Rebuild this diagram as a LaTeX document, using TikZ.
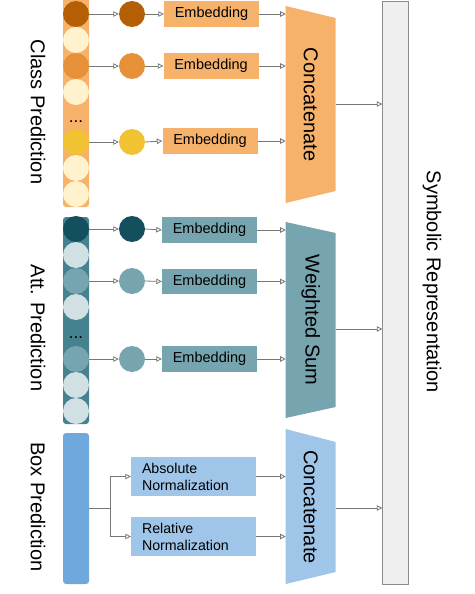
\documentclass[tikz,border=0pt]{standalone}
\usepackage{fontspec}
\setmainfont{Liberation Sans}
\usetikzlibrary{arrows.meta}
\definecolor{lgray}{HTML}{777777}
\definecolor{oColumn}{HTML}{F6B26B}
\definecolor{oDark}{HTML}{B45F06}
\definecolor{oMid}{HTML}{E69138}
\definecolor{oYel}{HTML}{F1C232}
\definecolor{oLight}{HTML}{FFF2CC}
\definecolor{tColumn}{HTML}{45818E}
\definecolor{tDark}{HTML}{134F5C}
\definecolor{tMid}{HTML}{76A5AF}
\definecolor{tLight}{HTML}{D0E0E3}
\definecolor{bColumn}{HTML}{6FA8DC}
\definecolor{bBox}{HTML}{9FC5E8}
\definecolor{symFill}{HTML}{EFEFEF}
\definecolor{symDraw}{HTML}{8C8C8C}
\tikzset{
  conn/.style={draw=lgray, line width=0.8pt, -{Triangle[open,length=5.5pt,width=5.5pt]}},
  plainline/.style={draw=lgray, line width=0.8pt},
  circ/.style={circle, minimum size=26pt, inner sep=0pt, draw=none},
  colbox/.style={rectangle, rounded corners=3pt, minimum width=26pt, inner sep=0pt, draw=none},
  embbox/.style={rectangle, minimum width=95pt, minimum height=25.5pt, inner sep=0pt, draw=none, font=\fontsize{14.5}{17}\selectfont},
  normbox/.style={rectangle, minimum height=39pt, text width=103pt, inner xsep=11pt, inner ysep=0pt, align=left, draw=none, fill=bBox, font=\fontsize{14.2}{17}\selectfont},
  biglabel/.style={rotate=-90, font=\fontsize{20}{24}\selectfont, inner sep=0pt},
  dotlabel/.style={font=\fontsize{17}{20}\selectfont, inner sep=0pt, anchor=base}
}
\begin{document}
\begin{tikzpicture}[x=1pt,y=-1pt]
\useasboundingbox (0,0) rectangle (474,594);

% ---------- Class prediction ----------
\node[colbox, fill=oColumn, minimum height=212pt] (ccol) at (76,101) {};
\node[circ, fill=oDark]  (c1) at (76,14) {};
\node[circ, fill=oLight] (c2) at (76,40) {};
\node[circ, fill=oMid]   (c3) at (76,66) {};
\node[circ, fill=oLight] (c4) at (76,92) {};
\node[dotlabel] (cdots) at (76,122) {...};
\node[circ, fill=oYel]   (c5) at (76,142) {};
\node[circ, fill=oLight] (c6) at (76,168) {};
\node[circ, fill=oLight] (c7) at (76,194) {};

\node[circ, fill=oDark] (d1) at (132,14) {};
\node[circ, fill=oMid]  (d2) at (132,66) {};
\node[circ, fill=oYel]  (d3) at (132,142) {};

\node[embbox, fill=oColumn] (e1) at (211.5,14) {Embedding};
\node[embbox, fill=oColumn] (e2) at (211,66) {Embedding};
\node[embbox, fill=oColumn] (e3) at (210,141) {Embedding};

\fill[oColumn] (285.7,6) -- (335.7,18) -- (335.7,191) -- (285.7,203) -- cycle;
\coordinate (ccatL) at (285.7,104);
\coordinate (ccatR) at (335.7,104);
\node[biglabel] (ccat) at (310.7,104.5) {Concatenate};

\draw[conn] (c1.east) -- (d1.west);
\draw[conn] (c3.east) -- (d2.west);
\draw[conn] (c5.east) -- (d3.west);
\draw[conn] (d1.east) -- (e1.west);
\draw[conn] (d2.east) -- (e2.west);
\draw[conn] (d3.east) -- (e3.west);
\draw[conn] (e1.east) -- (e1.east -| ccatL);
\draw[conn] (e2.east) -- (e2.east -| ccatL);
\draw[conn] (e3.east) -- (e3.east -| ccatL);

\node[biglabel] (clab) at (38,112) {Class Prediction};

% ---------- Attribute prediction ----------
\node[colbox, fill=tColumn, minimum height=207pt] (acol) at (76,320.5) {};
\node[circ, fill=tDark]  (a1) at (76,229) {};
\node[circ, fill=tLight] (a2) at (76,255) {};
\node[circ, fill=tMid]   (a3) at (76,281) {};
\node[circ, fill=tLight] (a4) at (76,307) {};
\node[dotlabel] (adots) at (76,338) {...};
\node[circ, fill=tMid]   (a5) at (76,359) {};
\node[circ, fill=tLight] (a6) at (76,385) {};
\node[circ, fill=tLight] (a7) at (76,411) {};

\node[circ, fill=tDark] (f1) at (132,229) {};
\node[circ, fill=tMid]  (f2) at (132,281) {};
\node[circ, fill=tMid]  (f3) at (132,359) {};

\node[embbox, fill=tMid] (g1) at (209.5,230) {Embedding};
\node[embbox, fill=tMid] (g2) at (209.5,281.5) {Embedding};
\node[embbox, fill=tMid] (g3) at (209.5,359) {Embedding};

\fill[tMid] (285.7,222) -- (335.7,233) -- (335.7,407) -- (285.7,418) -- cycle;
\coordinate (wsL) at (285.7,329);
\coordinate (wsR) at (335.7,329);
\node[biglabel] (wsum) at (310.7,320) {Weighted Sum};

\draw[conn] (a1.east) -- (f1.west);
\draw[conn] (a3.east) -- (f2.west);
\draw[conn] (a5.east) -- (f3.west);
\draw[conn] (f1.east) -- (g1.west);
\draw[conn] (f2.east) -- (g2.west);
\draw[conn] (f3.east) -- (g3.west);
\draw[conn] (g1.east) -- (g1.east -| wsL);
\draw[conn] (g2.east) -- (g2.east -| wsL);
\draw[conn] (g3.east) -- (g3.east -| wsL);

\node[biglabel] (alab) at (38,328) {Att. Prediction};

% ---------- Box prediction ----------
\node[colbox, fill=bColumn, minimum height=151pt] (bcol) at (76,508.5) {};
\coordinate (br) at (110,508.5);
\node[normbox] (absn) at (193.5,476.5) {Absolute\\Normalization};
\node[normbox] (reln) at (193.5,536.5) {Relative\\Normalization};

\fill[bBox] (285.7,429) -- (335.7,442) -- (335.7,572) -- (285.7,584) -- cycle;
\coordinate (bcatL) at (285.7,508);
\coordinate (bcatR) at (335.7,508);
\node[biglabel] (bcat) at (310.7,507) {Concatenate};

\draw[plainline] (bcol.east) -- (br);
\draw[conn] (br) |- (absn.west);
\draw[conn] (br) |- (reln.west);
\draw[conn] (absn.east) -- (absn.east -| bcatL);
\draw[conn] (reln.east) -- (reln.east -| bcatL);

\node[biglabel] (blab) at (38,507) {Box Prediction};

% ---------- Symbolic representation ----------
\node[rectangle, draw=symDraw, line width=0.9pt, fill=symFill, minimum width=25.5pt, minimum height=583pt, inner sep=0pt] (sym) at (395.5,293) {};
\node[biglabel] (symlab) at (432,282) {Symbolic Representation};

\draw[conn] (ccatR) -- (ccatR -| sym.west);
\draw[conn] (wsR) -- (wsR -| sym.west);
\draw[conn] (bcatR) -- (bcatR -| sym.west);
\end{tikzpicture}
\end{document}
